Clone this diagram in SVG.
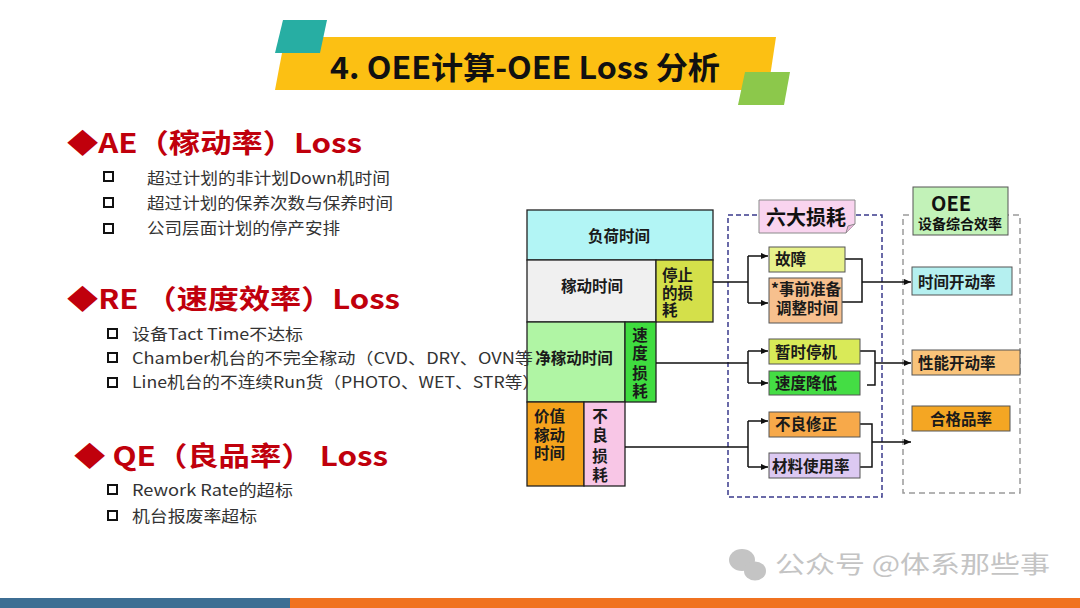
<svg xmlns="http://www.w3.org/2000/svg" width="1080" height="608" viewBox="0 0 1080 608">
<defs>
<marker id="ah" viewBox="0 0 8 8" refX="8" refY="4" markerWidth="7" markerHeight="7" markerUnits="userSpaceOnUse" orient="auto"><path d="M0,0.5 L8,4 L0,7.5 Z" fill="#111"/></marker>
</defs>
<style>
text{font-family:"Noto Sans CJK SC","Noto Sans",sans-serif}
.h{font-size:27px;fill:#c0000c;font-weight:bold}
.t{font-size:16px;fill:#333}
.n{font-size:15.5px;font-weight:bold;fill:#1a1a1a}
.cell{stroke:#222;stroke-width:1.3}
.box{stroke:#555;stroke-width:1}
.ln{fill:none;stroke:#111;stroke-width:1.5}
.ar{fill:none;stroke:#111;stroke-width:1.5;marker-end:url(#ah)}
.sq{fill:none;stroke:#111;stroke-width:2}
</style>
<rect width="1080" height="608" fill="#fff"/>

<g id="title">
<polygon points="285,37 776,37 768,90 275,90" fill="#fcc013"/>
<polygon points="283,20 327,20 320,53 275,53" fill="#27aea3"/>
<polygon points="745,72 790,72 784,105 738,105" fill="#8cc84b"/>
<text x="330" y="79" font-size="31" font-weight="bold" fill="#111" textLength="390" lengthAdjust="spacingAndGlyphs">4. OEE计算-OEE Loss 分析</text>
</g>

<g id="left-text">
<text class="h" x="67" y="153" textLength="295" lengthAdjust="spacingAndGlyphs">◆AE（稼动率）Loss</text>
<rect class="sq" x="104" y="172" width="9" height="9"/>
<rect class="sq" x="104" y="198" width="9" height="9"/>
<rect class="sq" x="104" y="224" width="9" height="9"/>
<text class="t" x="147" y="184" textLength="243" lengthAdjust="spacingAndGlyphs">超过计划的非计划Down机时间</text>
<text class="t" x="147" y="209" textLength="246" lengthAdjust="spacingAndGlyphs">超过计划的保养次数与保养时间</text>
<text class="t" x="147" y="234" textLength="193" lengthAdjust="spacingAndGlyphs">公司层面计划的停产安排</text>

<text class="h" x="67" y="309" textLength="333" lengthAdjust="spacingAndGlyphs">◆RE （速度效率）Loss</text>
<rect class="sq" x="108" y="329" width="9" height="9"/>
<rect class="sq" x="108" y="353" width="9" height="9"/>
<rect class="sq" x="108" y="378" width="9" height="9"/>
<text class="t" x="132" y="340" textLength="171" lengthAdjust="spacingAndGlyphs">设备Tact Time不达标</text>

<text class="h" x="74" y="466" textLength="314" lengthAdjust="spacingAndGlyphs">◆ QE（良品率） Loss</text>
<rect class="sq" x="108" y="485" width="9" height="9"/>
<rect class="sq" x="108" y="511" width="9" height="9"/>
<text class="t" x="132" y="496" textLength="161" lengthAdjust="spacingAndGlyphs">Rework Rate的超标</text>
<text class="t" x="132" y="522" textLength="125" lengthAdjust="spacingAndGlyphs">机台报废率超标</text>
</g>

<g id="regions">
<rect x="728" y="215" width="154" height="282" fill="none" stroke="#3a3a8c" stroke-width="1.5" stroke-dasharray="5,3"/>
<rect x="903" y="215" width="117" height="278" fill="none" stroke="#9a9a9a" stroke-width="1.5" stroke-dasharray="6,4"/>
</g>

<g id="time-block">
<rect class="cell" x="527" y="210" width="186" height="50" fill="#b2f5f5"/>
<text class="n" x="619" y="242" text-anchor="middle">负荷时间</text>
<rect class="cell" x="527" y="260" width="129" height="62" fill="#f0f0f0"/>
<text class="n" x="592" y="292" text-anchor="middle">稼动时间</text>
<rect class="cell" x="656" y="260" width="57" height="62" fill="#d4e04a"/>
<text class="n"><tspan x="662" y="281">停止</tspan><tspan x="662" y="299">的损</tspan><tspan x="662" y="316">耗</tspan></text>
<rect class="cell" x="527" y="322" width="98" height="80" fill="#b0f5a4"/>
<text class="n" x="574" y="364" text-anchor="middle" font-size="16">净稼动时间</text>
<rect class="cell" x="625" y="322" width="31" height="80" fill="#3fdc3f"/>
<text class="n" text-anchor="middle"><tspan x="640" y="341">速</tspan><tspan x="640" y="359">度</tspan><tspan x="640" y="379">损</tspan><tspan x="640" y="397">耗</tspan></text>
<rect class="cell" x="527" y="402" width="57" height="84" fill="#f5a31c"/>
<text class="n"><tspan x="534" y="422">价值</tspan><tspan x="534" y="441">稼动</tspan><tspan x="534" y="459">时间</tspan></text>
<rect class="cell" x="584" y="402" width="41" height="84" fill="#f8c6e6"/>
<text class="n" text-anchor="middle"><tspan x="600" y="422">不</tspan><tspan x="600" y="441">良</tspan><tspan x="600" y="462">损</tspan><tspan x="600" y="481">耗</tspan></text>
</g>

<g id="re-overlap-text">
<text class="t" x="132" y="364" textLength="401" lengthAdjust="spacingAndGlyphs">Chamber机台的不完全稼动（CVD、DRY、OVN等</text>
<text class="t" x="132" y="388" textLength="408" lengthAdjust="spacingAndGlyphs">Line机台的不连续Run货（PHOTO、WET、STR等）</text>
</g>

<g id="six-losses-label">
<path d="M759,200 H855 V224 L846,233 H759 Z" fill="#f9d4ef" stroke="#8a8a8a" stroke-width="1"/>
<path d="M846,233 L848,226 L855,224" fill="#e9b8dc" stroke="#8a8a8a" stroke-width="1"/>
<text x="806" y="225" text-anchor="middle" font-size="20" font-weight="bold" fill="#111">六大损耗</text>
</g>

<g id="connectors">
<path class="ln" d="M713,282 H748 M748,256 V303 M845,259 H862 V302 H842"/>
<path class="ar" d="M748,256 H768"/>
<path class="ar" d="M748,303 H768"/>
<path class="ar" d="M862,282 H911"/>
<path class="ln" d="M656,363 H748 M748,351 V383 M860,351 H875 V385 H867"/>
<path class="ar" d="M748,351 H768"/>
<path class="ar" d="M748,383 H768"/>
<path class="ar" d="M875,363 H911"/>
<path class="ln" d="M625,447 H748 M748,421 V467 M860,424 H872 V467 H857"/>
<path class="ar" d="M748,421 H768"/>
<path class="ar" d="M748,467 H768"/>
<path class="ar" d="M872,442 H911"/>
</g>

<g id="loss-gz"><rect class="box" x="769" y="247" width="76" height="25" fill="#e8f28c"/><text class="n" x="775" y="265">故障</text></g>
<g id="loss-setup"><rect class="box" x="769" y="278" width="73" height="45" fill="#f7c08e"/><text class="n" text-anchor="middle"><tspan x="806" y="295">*事前准备</tspan><tspan x="807" y="314">调整时间</tspan></text></g>
<g id="loss-stop"><rect class="box" x="769" y="339" width="91" height="25" fill="#d9ea58"/><text class="n" x="775" y="358">暂时停机</text></g>
<g id="loss-speed"><rect class="box" x="769" y="371" width="91" height="24" fill="#44dd44"/><text class="n" x="775" y="389">速度降低</text></g>
<g id="loss-defect"><rect class="box" x="769" y="412" width="91" height="25" fill="#f7a94a"/><text class="n" x="775" y="430">不良修正</text></g>
<g id="loss-material"><rect class="box" x="769" y="453" width="91" height="25" fill="#dcc9f2"/><text class="n" x="772" y="472">材料使用率</text></g>

<g id="oee"><rect class="box" x="913" y="187" width="95" height="48" fill="#c2f2b8"/><text font-weight="bold" fill="#111" text-anchor="middle"><tspan x="951" y="211" font-size="20">OEE</tspan><tspan x="960" y="229" font-size="14">设备综合效率</tspan></text></g>
<g id="rate-time"><rect class="box" x="912" y="267" width="100" height="28" fill="#b5f0f0"/><text class="n" x="918" y="288">时间开动率</text></g>
<g id="rate-perf"><rect class="box" x="912" y="350" width="108" height="25" fill="#f9c37a"/><text class="n" x="918" y="369">性能开动率</text></g>
<g id="rate-quality"><rect class="box" x="912" y="406" width="98" height="25" fill="#f4a623"/><text class="n" x="961" y="425" text-anchor="middle">合格品率</text></g>

<g id="watermark" fill="#c4c4c4">
<ellipse cx="742" cy="560" rx="13" ry="11"/>
<ellipse cx="755" cy="571" rx="11" ry="9.5"/>
<text x="775" y="573" font-size="24" textLength="275" lengthAdjust="spacingAndGlyphs">公众号 @体系那些事</text>
</g>

<g id="footer">
<rect x="0" y="598" width="290" height="10" fill="#3d6e93"/>
<rect x="290" y="598" width="790" height="10" fill="#f07220"/>
</g>
</svg>
